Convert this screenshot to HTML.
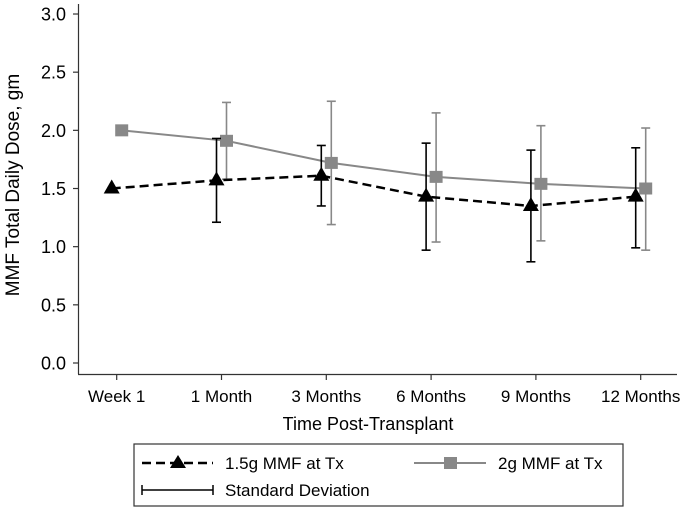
<!DOCTYPE html>
<html><head><meta charset="utf-8"><style>
body{margin:0;background:#fff}
svg text{font-family:"Liberation Sans",Arial,sans-serif;fill:#000}
</style></head><body>
<svg id="chart" width="685" height="509" viewBox="0 0 685 509" xmlns="http://www.w3.org/2000/svg">
<g id="axes"></g><g id="series"></g>
<text x="368" y="430" font-size="18" text-anchor="middle">Time Post-Transplant</text>
<text transform="translate(19,185) rotate(-90)" font-size="19" text-anchor="middle">MMF Total Daily Dose, gm</text>
<g>
<rect x="134" y="444" width="489" height="62" fill="none" stroke="#333" stroke-width="1.2"/>
<g>
<line x1="142" y1="463" x2="213" y2="463" stroke="#000" stroke-width="2.5" stroke-dasharray="9,5"/>
<polygon points="178,455 186,468 170,468" fill="#000"/>
<text x="225" y="469" font-size="17">1.5g MMF at Tx</text></g>
<g>
<line x1="414" y1="463" x2="486" y2="463" stroke="#888" stroke-width="2"/>
<rect x="444" y="457" width="13" height="12" fill="#888"/>
<text x="498" y="469" font-size="17">2g MMF at Tx</text></g>
<g>
<line x1="142" y1="490" x2="213" y2="490" stroke="#000" stroke-width="1.5"/>
<line x1="142" y1="485" x2="142" y2="495" stroke="#000" stroke-width="1.5"/>
<line x1="213" y1="485" x2="213" y2="495" stroke="#000" stroke-width="1.5"/>
<text x="225" y="496" font-size="17">Standard Deviation</text></g>
</g>
</svg>
<script>
const categories=["Week 1","1 Month","3 Months","6 Months","9 Months","12 Months"];
const yTicks=[0,0.5,1,1.5,2,2.5,3];
const yTickLabels=["0.0","0.5","1.0","1.5","2.0","2.5","3.0"];
const lowMean=[1.50,1.57,1.61,1.43,1.35,1.43];
const lowSdLo=[null,1.21,1.35,0.97,0.87,0.99];
const lowSdHi=[null,1.93,1.87,1.89,1.83,1.85];
const highMean=[2.00,1.91,1.72,1.60,1.54,1.50];
const highSdLo=[null,1.58,1.19,1.04,1.05,0.97];
const highSdHi=[null,2.24,2.25,2.15,2.04,2.02];
const NS="http://www.w3.org/2000/svg";
const X0=116.7,DX=104.8;
function xs(i){return X0+i*DX;}
function ys(v){return 363-v*116.33;}
function mk(t,a,p){const e=document.createElementNS(NS,t);for(const k in a)e.setAttribute(k,a[k]);p.appendChild(e);return e;}
const ax=document.getElementById('axes'),se=document.getElementById('series');
let l=mk('line',{x1:78.5,y1:4,x2:78.5,y2:374,stroke:'#333','stroke-width':1.2},ax);


l=mk('line',{x1:78,y1:374.5,x2:677,y2:374.5,stroke:'#333','stroke-width':1.2},ax);


yTicks.forEach((v,i)=>{const y=ys(v);
mk('line',{x1:73,y1:y,x2:78,y2:y,stroke:'#333','stroke-width':1.2},ax);
const t=mk('text',{x:66,y:y+6.5,'font-size':18,'text-anchor':'end'},ax);t.textContent=yTickLabels[i];

});
categories.forEach((c,i)=>{const x=xs(i);
mk('line',{x1:x,y1:374,x2:x,y2:380,stroke:'#333','stroke-width':1.2},ax);
const t=mk('text',{x:x,y:402,'font-size':17,'text-anchor':'middle'},ax);t.textContent=c;

});
function series(mean,lo,hi,off,color,dash,name,shape){
 const g=mk('g',{},se);
 
 
 mean.forEach((m,i)=>{if(lo[i]==null)return;const x=xs(i)+off;
  const e=mk('g',{stroke:color,'stroke-width':1.6},g);
  
  
  mk('line',{x1:x,y1:ys(lo[i]),x2:x,y2:ys(hi[i])},e);
  mk('line',{x1:x-4.5,y1:ys(lo[i]),x2:x+4.5,y2:ys(lo[i])},e);
  mk('line',{x1:x-4.5,y1:ys(hi[i]),x2:x+4.5,y2:ys(hi[i])},e);});
 const pts=mean.map((m,i)=>(xs(i)+off)+','+ys(m)).join(' ');
 const p=mk('polyline',{points:pts,fill:'none',stroke:color,'stroke-width':dash?2.5:2,'stroke-dasharray':dash||'none'},g);
 
 
 mean.forEach((m,i)=>{const x=xs(i)+off,y=ys(m);let s;
  if(shape==='tri')s=mk('polygon',{points:`${x},${y-9} ${x+8},${y+5} ${x-8},${y+5}`,fill:color},g);
  else s=mk('rect',{x:x-6.5,y:y-6,width:13,height:12,fill:color},g);
  
  });
}
series(highMean,highSdLo,highSdHi,5,'#888',null,'2g','sq');
series(lowMean,lowSdLo,lowSdHi,-5,'#000','9,5','1-5g','tri');
</script>
</body></html>
